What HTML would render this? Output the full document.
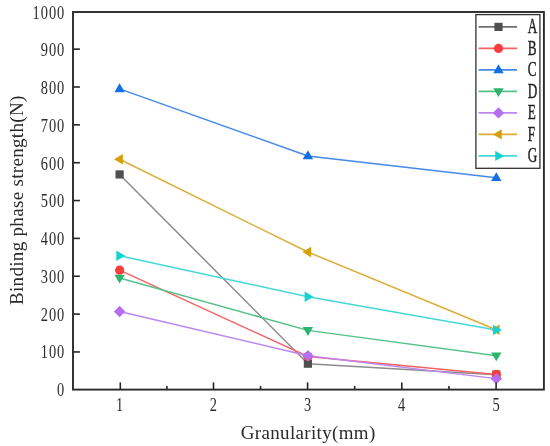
<!DOCTYPE html>
<html><head><meta charset="utf-8"><style>
html,body{margin:0;padding:0;background:#fff;width:550px;height:446px;overflow:hidden}
svg{display:block}
text{font-family:"Liberation Serif","Times New Roman",serif;fill:#2b2b2b}
.leg text{fill:#1e1e1e;stroke:#1e1e1e;stroke-width:0.4px}
</style></head><body>
<svg width="550" height="446" viewBox="0 0 550 446">
<rect width="550" height="446" fill="#fff"/>
<g>
<polyline points="119.60,174.43 307.90,363.68 496.30,374.66" fill="none" stroke="#8c8c8c" stroke-width="1.5"/>
<rect x="115.50" y="170.33" width="8.2" height="8.2" fill="#505050"/>
<rect x="303.80" y="359.58" width="8.2" height="8.2" fill="#505050"/>
<rect x="492.20" y="370.56" width="8.2" height="8.2" fill="#505050"/>
<polyline points="119.60,270.19 307.90,356.49 496.30,374.47" fill="none" stroke="#f56262" stroke-width="1.5"/>
<circle cx="119.60" cy="270.19" r="4.6" fill="#fa3c3c"/>
<circle cx="307.90" cy="356.49" r="4.6" fill="#fa3c3c"/>
<circle cx="496.30" cy="374.47" r="4.6" fill="#fa3c3c"/>
<polyline points="119.60,88.89 307.90,155.89 496.30,177.84" fill="none" stroke="#4589ea" stroke-width="1.5"/>
<polygon points="119.60,83.35 124.80,92.15 114.40,92.15" fill="#146ee6"/>
<polygon points="307.90,150.34 313.10,159.14 302.70,159.14" fill="#146ee6"/>
<polygon points="496.30,172.30 501.50,181.10 491.10,181.10" fill="#146ee6"/>
<polyline points="119.60,277.95 307.90,330.38 496.30,355.74" fill="none" stroke="#56c28a" stroke-width="1.5"/>
<polygon points="119.60,283.50 124.80,274.70 114.40,274.70" fill="#2db56e"/>
<polygon points="307.90,335.92 313.10,327.12 302.70,327.12" fill="#2db56e"/>
<polygon points="496.30,361.28 501.50,352.48 491.10,352.48" fill="#2db56e"/>
<polyline points="119.60,311.45 307.90,355.74 496.30,378.63" fill="none" stroke="#bd87f0" stroke-width="1.5"/>
<polygon points="119.60,305.75 125.30,311.45 119.60,317.15 113.90,311.45" fill="#b46ef0"/>
<polygon points="307.90,350.04 313.60,355.74 307.90,361.44 302.20,355.74" fill="#b46ef0"/>
<polygon points="496.30,372.93 502.00,378.63 496.30,384.33 490.60,378.63" fill="#b46ef0"/>
<polyline points="119.60,159.29 307.90,252.03 496.30,329.81" fill="none" stroke="#dcad38" stroke-width="1.5"/>
<polygon points="114.06,159.29 122.86,154.09 122.86,164.49" fill="#d6a00a"/>
<polygon points="302.36,252.03 311.16,246.83 311.16,257.23" fill="#d6a00a"/>
<polygon points="490.76,329.81 499.56,324.61 499.56,335.01" fill="#d6a00a"/>
<polyline points="119.60,255.81 307.90,296.69 496.30,330.00" fill="none" stroke="#45d7d7" stroke-width="1.5"/>
<polygon points="125.14,255.81 116.34,250.61 116.34,261.01" fill="#14d2d2"/>
<polygon points="313.44,296.69 304.64,291.49 304.64,301.89" fill="#14d2d2"/>
<polygon points="501.84,330.00 493.04,324.80 493.04,335.20" fill="#14d2d2"/>
</g>
<g stroke="#262626" stroke-width="1.6">
<line x1="73.0" y1="351.95" x2="79.9" y2="351.95"/>
<line x1="73.0" y1="314.10" x2="79.9" y2="314.10"/>
<line x1="73.0" y1="276.25" x2="79.9" y2="276.25"/>
<line x1="73.0" y1="238.40" x2="79.9" y2="238.40"/>
<line x1="73.0" y1="200.55" x2="79.9" y2="200.55"/>
<line x1="73.0" y1="162.70" x2="79.9" y2="162.70"/>
<line x1="73.0" y1="124.85" x2="79.9" y2="124.85"/>
<line x1="73.0" y1="87.00" x2="79.9" y2="87.00"/>
<line x1="73.0" y1="49.15" x2="79.9" y2="49.15"/>
<line x1="120.30" y1="389.6" x2="120.30" y2="382.40000000000003"/>
<line x1="213.50" y1="389.6" x2="213.50" y2="382.40000000000003"/>
<line x1="307.60" y1="389.6" x2="307.60" y2="382.40000000000003"/>
<line x1="401.80" y1="389.6" x2="401.80" y2="382.40000000000003"/>
<line x1="496.10" y1="389.6" x2="496.10" y2="382.40000000000003"/>
<line x1="166.90" y1="389.6" x2="166.90" y2="386.0"/>
<line x1="260.55" y1="389.6" x2="260.55" y2="386.0"/>
<line x1="354.70" y1="389.6" x2="354.70" y2="386.0"/>
<line x1="448.95" y1="389.6" x2="448.95" y2="386.0"/>
</g>
<rect x="73.0" y="12.0" width="470.90" height="377.60" fill="none" stroke="#2a2a2a" stroke-width="1.9"/>
<rect x="475.9" y="14.6" width="64.0" height="153.7" fill="#fff" stroke="#303030" stroke-width="1.3"/>
<g font-size="20" class="leg">
<line x1="478.6" y1="26.90" x2="517" y2="26.90" stroke="#707070" stroke-width="1.8"/>
<rect x="494.40" y="22.80" width="8.2" height="8.2" fill="#505050"/>
<text x="0" y="0" transform="translate(527.8 33.10) scale(0.66 1)">A</text>
<line x1="478.6" y1="48.40" x2="517" y2="48.40" stroke="#f56262" stroke-width="1.8"/>
<circle cx="498.50" cy="48.40" r="4.6" fill="#fa3c3c"/>
<text x="0" y="0" transform="translate(527.8 54.60) scale(0.66 1)">B</text>
<line x1="478.6" y1="69.90" x2="517" y2="69.90" stroke="#4589ea" stroke-width="1.8"/>
<polygon points="498.50,64.36 503.70,73.16 493.30,73.16" fill="#146ee6"/>
<text x="0" y="0" transform="translate(527.8 76.10) scale(0.66 1)">C</text>
<line x1="478.6" y1="91.40" x2="517" y2="91.40" stroke="#56c28a" stroke-width="1.8"/>
<polygon points="498.50,96.94 503.70,88.14 493.30,88.14" fill="#2db56e"/>
<text x="0" y="0" transform="translate(527.8 97.60) scale(0.66 1)">D</text>
<line x1="478.6" y1="112.90" x2="517" y2="112.90" stroke="#bd87f0" stroke-width="1.8"/>
<polygon points="498.50,107.20 504.20,112.90 498.50,118.60 492.80,112.90" fill="#b46ef0"/>
<text x="0" y="0" transform="translate(527.8 119.10) scale(0.66 1)">E</text>
<line x1="478.6" y1="134.40" x2="517" y2="134.40" stroke="#dcad38" stroke-width="1.8"/>
<polygon points="492.96,134.40 501.76,129.20 501.76,139.60" fill="#d6a00a"/>
<text x="0" y="0" transform="translate(527.8 140.60) scale(0.66 1)">F</text>
<line x1="478.6" y1="155.90" x2="517" y2="155.90" stroke="#45d7d7" stroke-width="1.8"/>
<polygon points="504.04,155.90 495.24,150.70 495.24,161.10" fill="#14d2d2"/>
<text x="0" y="0" transform="translate(527.8 162.10) scale(0.66 1)">G</text>
</g>
<g font-size="16.3">
<text font-size="18" transform="translate(65.30 396.20) scale(0.8 1)" text-anchor="end" letter-spacing="1.25">0</text>
<text font-size="18" transform="translate(65.30 358.43) scale(0.8 1)" text-anchor="end" letter-spacing="1.25">100</text>
<text font-size="18" transform="translate(65.30 320.66) scale(0.8 1)" text-anchor="end" letter-spacing="1.25">200</text>
<text font-size="18" transform="translate(65.30 282.89) scale(0.8 1)" text-anchor="end" letter-spacing="1.25">300</text>
<text font-size="18" transform="translate(65.30 245.12) scale(0.8 1)" text-anchor="end" letter-spacing="1.25">400</text>
<text font-size="18" transform="translate(65.30 207.35) scale(0.8 1)" text-anchor="end" letter-spacing="1.25">500</text>
<text font-size="18" transform="translate(65.30 169.58) scale(0.8 1)" text-anchor="end" letter-spacing="1.25">600</text>
<text font-size="18" transform="translate(65.30 131.81) scale(0.8 1)" text-anchor="end" letter-spacing="1.25">700</text>
<text font-size="18" transform="translate(65.30 94.04) scale(0.8 1)" text-anchor="end" letter-spacing="1.25">800</text>
<text font-size="18" transform="translate(65.30 56.27) scale(0.8 1)" text-anchor="end" letter-spacing="1.25">900</text>
<text font-size="18" transform="translate(65.30 18.50) scale(0.8 1)" text-anchor="end" letter-spacing="1.25">1000</text>
<text font-size="18" transform="translate(119.50 410.6) scale(0.8 1)" text-anchor="middle">1</text>
<text font-size="18" transform="translate(213.40 410.6) scale(0.8 1)" text-anchor="middle">2</text>
<text font-size="18" transform="translate(307.60 410.6) scale(0.8 1)" text-anchor="middle">3</text>
<text font-size="18" transform="translate(401.50 410.6) scale(0.8 1)" text-anchor="middle">4</text>
<text font-size="18" transform="translate(496.00 410.6) scale(0.8 1)" text-anchor="middle">5</text>
</g>
<text x="0" y="0" transform="translate(308.2 438.5) scale(1.055 1)" text-anchor="middle" font-size="18" letter-spacing="0.32">Granularity(mm)</text>
<text x="0" y="0" transform="translate(23.1 305.0) rotate(-90) scale(1.04 1)" font-size="18.3" letter-spacing="0.3">Binding phase strength(N)</text>
</svg>
</body></html>
